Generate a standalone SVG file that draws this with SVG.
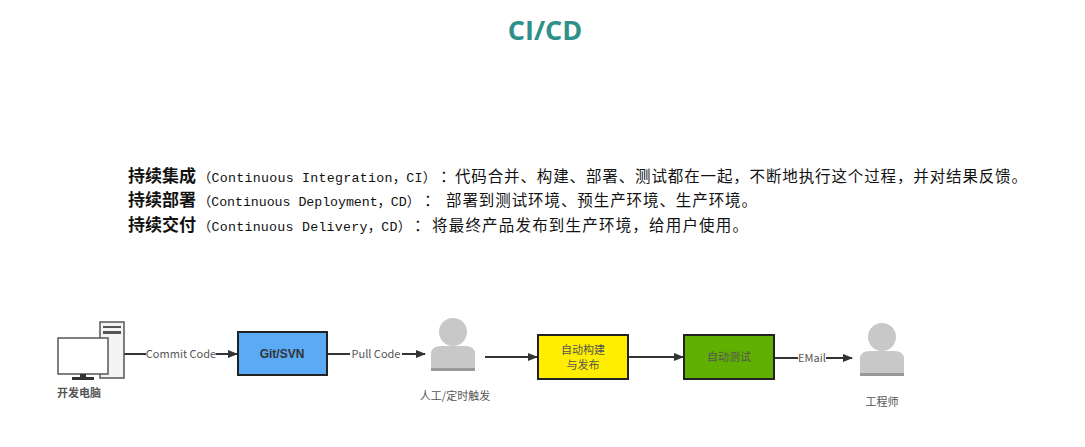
<svg xmlns="http://www.w3.org/2000/svg" width="1085" height="447" viewBox="0 0 1085 447">
<style>
.t{font-family:"Noto Sans CJK SC","Liberation Sans",sans-serif;font-size:15.5px;fill:#111}
.b{font-weight:bold;font-size:17px}
.m{font-family:"Liberation Mono","Noto Sans CJK SC",monospace;font-size:13.3px}
.lbl{font-family:"Noto Sans CJK SC","Liberation Sans",sans-serif;font-size:11px;fill:#555}
.box{stroke:#222;stroke-width:2}
.c{stroke:#333;stroke-width:2;fill:none;marker-end:url(#a)}
.p{fill:#c8c8c8}
</style>
<defs>
<marker id="a" markerWidth="10" markerHeight="8" refX="9" refY="4" orient="auto" markerUnits="userSpaceOnUse"><path d="M0,0 L10,4 L0,8 Z" fill="#333"/></marker>
<g id="person"><circle cx="0" cy="-20" r="14" class="p"/><path d="M-22,18 L-22,2 Q-22,-6 -12,-6 L12,-6 Q22,-6 22,2 L22,18 Z" class="p"/><rect x="-22" y="16" width="44" height="3" fill="#999"/></g>
</defs>
<rect width="1085" height="447" fill="#fff"/>
<text x="545" y="40" text-anchor="middle" font-family="Open Sans,Liberation Sans,sans-serif" font-weight="bold" font-size="27" fill="#2e9089">CI/CD</text>
<text class="t" y="182"><tspan class="b" x="128">持续集成</tspan><tspan class="m" x="198" textLength="238" lengthAdjust="spacing">（Continuous Integration，CI）</tspan><tspan x="440">：</tspan><tspan x="455" textLength="572" lengthAdjust="spacing">代码合并、构建、部署、测试都在一起，不断地执行这个过程，并对结果反馈。</tspan></text>
<text class="t" y="206"><tspan class="b" x="128">持续部署</tspan><tspan class="m" x="198" textLength="222" lengthAdjust="spacing">（Continuous Deployment，CD）</tspan><tspan x="424">：</tspan><tspan x="446" textLength="311" lengthAdjust="spacing">部署到测试环境、预生产环境、生产环境。</tspan></text>
<text class="t" y="231"><tspan class="b" x="128">持续交付</tspan><tspan class="m" x="198" textLength="213" lengthAdjust="spacing">（Continuous Delivery，CD）</tspan><tspan x="414">：</tspan><tspan x="432" textLength="316" lengthAdjust="spacing">将最终产品发布到生产环境，给用户使用。</tspan></text>
<g id="connectors">
<path class="c" d="M124,354 H237"/>
<rect x="146" y="347" width="70" height="14" fill="#fff"/>
<text class="lbl" x="181" y="358" text-anchor="middle">Commit Code</text>
<path class="c" d="M327,354 H425"/>
<rect x="350" y="347" width="52" height="14" fill="#fff"/>
<text class="lbl" x="376" y="358" text-anchor="middle">Pull Code</text>
<path class="c" d="M485,357 H537"/>
<path class="c" d="M628,357 H683"/>
<path class="c" d="M774,358 H852"/>
<rect x="798" y="351" width="28" height="14" fill="#fff"/>
<text class="lbl" x="812" y="362" text-anchor="middle">EMail</text>
</g>
<g id="pc">
<rect x="100" y="322" width="24" height="56" fill="#f4f4f4" stroke="#555" stroke-width="1.5"/>
<rect x="103" y="326" width="18" height="2" fill="#555"/><rect x="103" y="331" width="18" height="3" fill="#555"/>
<rect x="58" y="338" width="50" height="36" fill="#fff" stroke="#555" stroke-width="1.5"/>
<rect x="80" y="374" width="6" height="4" fill="#333"/><rect x="72" y="377" width="22" height="3" fill="#333"/>
<text class="lbl" x="79" y="397" text-anchor="middle" font-weight="bold" fill="#333">开发电脑</text>
</g>
<g id="git"><rect class="box" x="238" y="332" width="89" height="43" fill="#5aaaf5"/><text x="282" y="358" text-anchor="middle" font-family="Liberation Sans,sans-serif" font-weight="bold" font-size="12" fill="#333">Git/SVN</text></g>
<g id="trigger"><use href="#person" x="453" y="352"/><text class="lbl" x="455" y="400" text-anchor="middle">人工/定时触发</text></g>
<g id="build"><rect class="box" x="538" y="335" width="90" height="44" fill="#ffee00"/><text class="lbl" x="583" y="354" text-anchor="middle" fill="#333">自动构建</text><text class="lbl" x="583" y="369" text-anchor="middle" fill="#333">与发布</text></g>
<g id="test"><rect class="box" x="684" y="335" width="90" height="44" fill="#5fb000"/><text class="lbl" x="729" y="361" text-anchor="middle" fill="#333">自动测试</text></g>
<g id="eng"><use href="#person" x="882" y="357"/><text class="lbl" x="882" y="406" text-anchor="middle">工程师</text></g>
</svg>
